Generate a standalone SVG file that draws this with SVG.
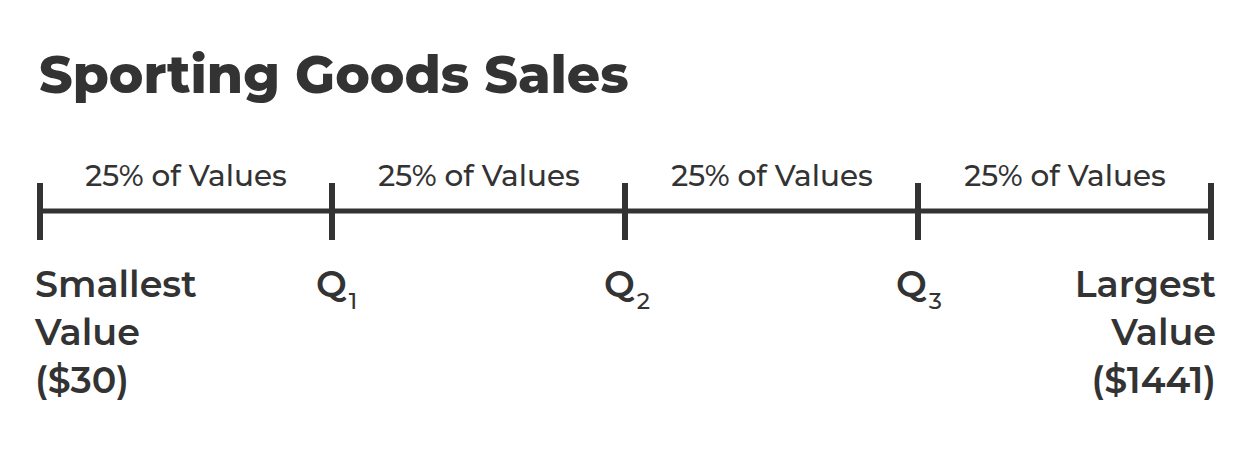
<svg xmlns="http://www.w3.org/2000/svg" width="1250" height="454" viewBox="0 0 1250 454">
<style>
text{font-family:"Montserrat","Lato","Noto Sans",sans-serif;fill:#333}
.t{font-size:52px;font-weight:800}
.p{font-size:29.5px;text-anchor:middle;font-weight:500}
.l{font-size:36.5px;font-weight:600}
.s{font-size:23px;font-weight:500}
.tick{stroke:#333;stroke-width:6}
</style>
<rect width="1250" height="454" fill="#fff"/>
<g id="title"><text class="t" x="39" y="93">Sporting Goods Sales</text></g>
<g id="connectors">
<line x1="40" y1="211" x2="1211" y2="211" stroke="#333" stroke-width="5"/>
<line class="tick" x1="40" y1="183" x2="40" y2="240"/>
<line class="tick" x1="332" y1="183" x2="332" y2="240"/>
<line class="tick" x1="625" y1="183" x2="625" y2="240"/>
<line class="tick" x1="918" y1="183" x2="918" y2="240"/>
<line class="tick" x1="1211" y1="183" x2="1211" y2="240"/>
</g>
<g id="seg1"><text class="p" x="186" y="186">25% of Values</text></g>
<g id="seg2"><text class="p" x="479" y="186">25% of Values</text></g>
<g id="seg3"><text class="p" x="772" y="186">25% of Values</text></g>
<g id="seg4"><text class="p" x="1065" y="186">25% of Values</text></g>
<g id="smallest"><text class="l" x="35" y="297">Smallest<tspan x="35" y="345">Value</tspan><tspan x="35" y="393">($30)</tspan></text></g>
<g id="q1"><text class="l" x="316" y="297">Q<tspan class="s" dx="2" dy="12">1</tspan></text></g>
<g id="q2"><text class="l" x="604" y="297">Q<tspan class="s" dx="2" dy="12">2</tspan></text></g>
<g id="q3"><text class="l" x="896" y="297">Q<tspan class="s" dx="2" dy="12">3</tspan></text></g>
<g id="largest"><text class="l" text-anchor="end" x="1216" y="297">Largest<tspan x="1216" y="345">Value</tspan><tspan x="1216" y="393">($1441)</tspan></text></g>
</svg>
